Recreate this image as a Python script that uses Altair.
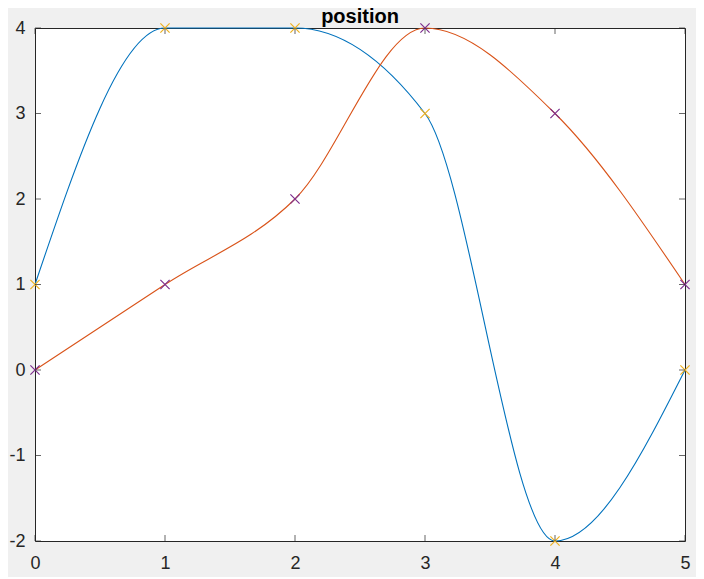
import altair as alt
import pandas as pd

t = [0, 1, 2, 3, 4, 5]
pos_a = [1, 4, 4, 3, -2, 0]
pos_b = [0, 1, 2, 4, 3, 1]
x_ticks = [0, 1, 2, 3, 4, 5]
y_ticks = [-2, -1, 0, 1, 2, 3, 4]

W, H = 650, 513

df = pd.DataFrame({
    "t": t * 2,
    "pos": pos_a + pos_b,
    "series": ["a"] * len(t) + ["b"] * len(t),
})
xt = pd.DataFrame({"t": x_ticks})
yt = pd.DataFrame({"pos": y_ticks})

xs = alt.Scale(domain=[0, 5], nice=False, zero=False)
ys = alt.Scale(domain=[-2, 4], nice=False, zero=False)
font = "Liberation Sans"

xaxis = alt.Axis(values=x_ticks, ticks=False, tickSize=0, grid=False, domain=False,
                 labelExpr="'' + datum.value",
                 labelFontSize=18, labelFont=font, labelColor="#262626", labelPadding=13,
                 title=None, labelFlush=False)
yaxis = alt.Axis(values=y_ticks, ticks=False, tickSize=0, grid=False, domain=False,
                 labelExpr="'' + datum.value",
                 labelFontSize=18, labelFont=font, labelColor="#262626", labelPadding=10,
                 title=None, labelFlush=False)

lines = alt.Chart(df).mark_line(strokeWidth=1.1, interpolate="monotone").encode(
    x=alt.X("t:Q", scale=xs, axis=xaxis),
    y=alt.Y("pos:Q", scale=ys, axis=yaxis),
    color=alt.Color("series:N", scale=alt.Scale(domain=["a", "b"], range=["#0072BD", "#D95319"]), legend=None),
    order="t:Q",
)

pts = alt.Chart(df).mark_point(shape="M-1,-1L1,1M-1,1L1,-1", size=85, strokeWidth=1.2, filled=False,
                               opacity=1).encode(
    x=alt.X("t:Q", scale=xs),
    y=alt.Y("pos:Q", scale=ys),
    stroke=alt.Stroke("series:N", scale=alt.Scale(domain=["a", "b"], range=["#EDB120", "#7E2F8E"]), legend=None),
)

tick_color = "#262626"
xb = alt.Chart(xt).mark_tick(size=6, thickness=1, color=tick_color).encode(
    x=alt.X("t:Q", scale=xs), y=alt.value(H - 3))
xtp = alt.Chart(xt).mark_tick(size=6, thickness=1, color=tick_color).encode(
    x=alt.X("t:Q", scale=xs), y=alt.value(3))
yl = alt.Chart(yt).mark_tick(size=6, thickness=1, color=tick_color).encode(
    y=alt.Y("pos:Q", scale=ys), x=alt.value(3))
yr = alt.Chart(yt).mark_tick(size=6, thickness=1, color=tick_color).encode(
    y=alt.Y("pos:Q", scale=ys), x=alt.value(W - 3))

chart = alt.layer(lines, pts, xb, xtp, yl, yr).properties(
    width=W, height=H,
    title=alt.TitleParams("position", font=font, fontSize=20, fontWeight="bold",
                          color="#000000", anchor="middle", offset=0, baseline="bottom",
                          frame="group", dy=28),
    padding={"left": 27, "top": 20, "right": 11, "bottom": 36},
    autosize=alt.AutoSizeParams(type="none"),
).configure(background="#F0F0F0").configure_view(
    fill="white", stroke="#262626", strokeWidth=1
)

chart.save("out.html", embed_options={"renderer": "svg", "actions": False})
